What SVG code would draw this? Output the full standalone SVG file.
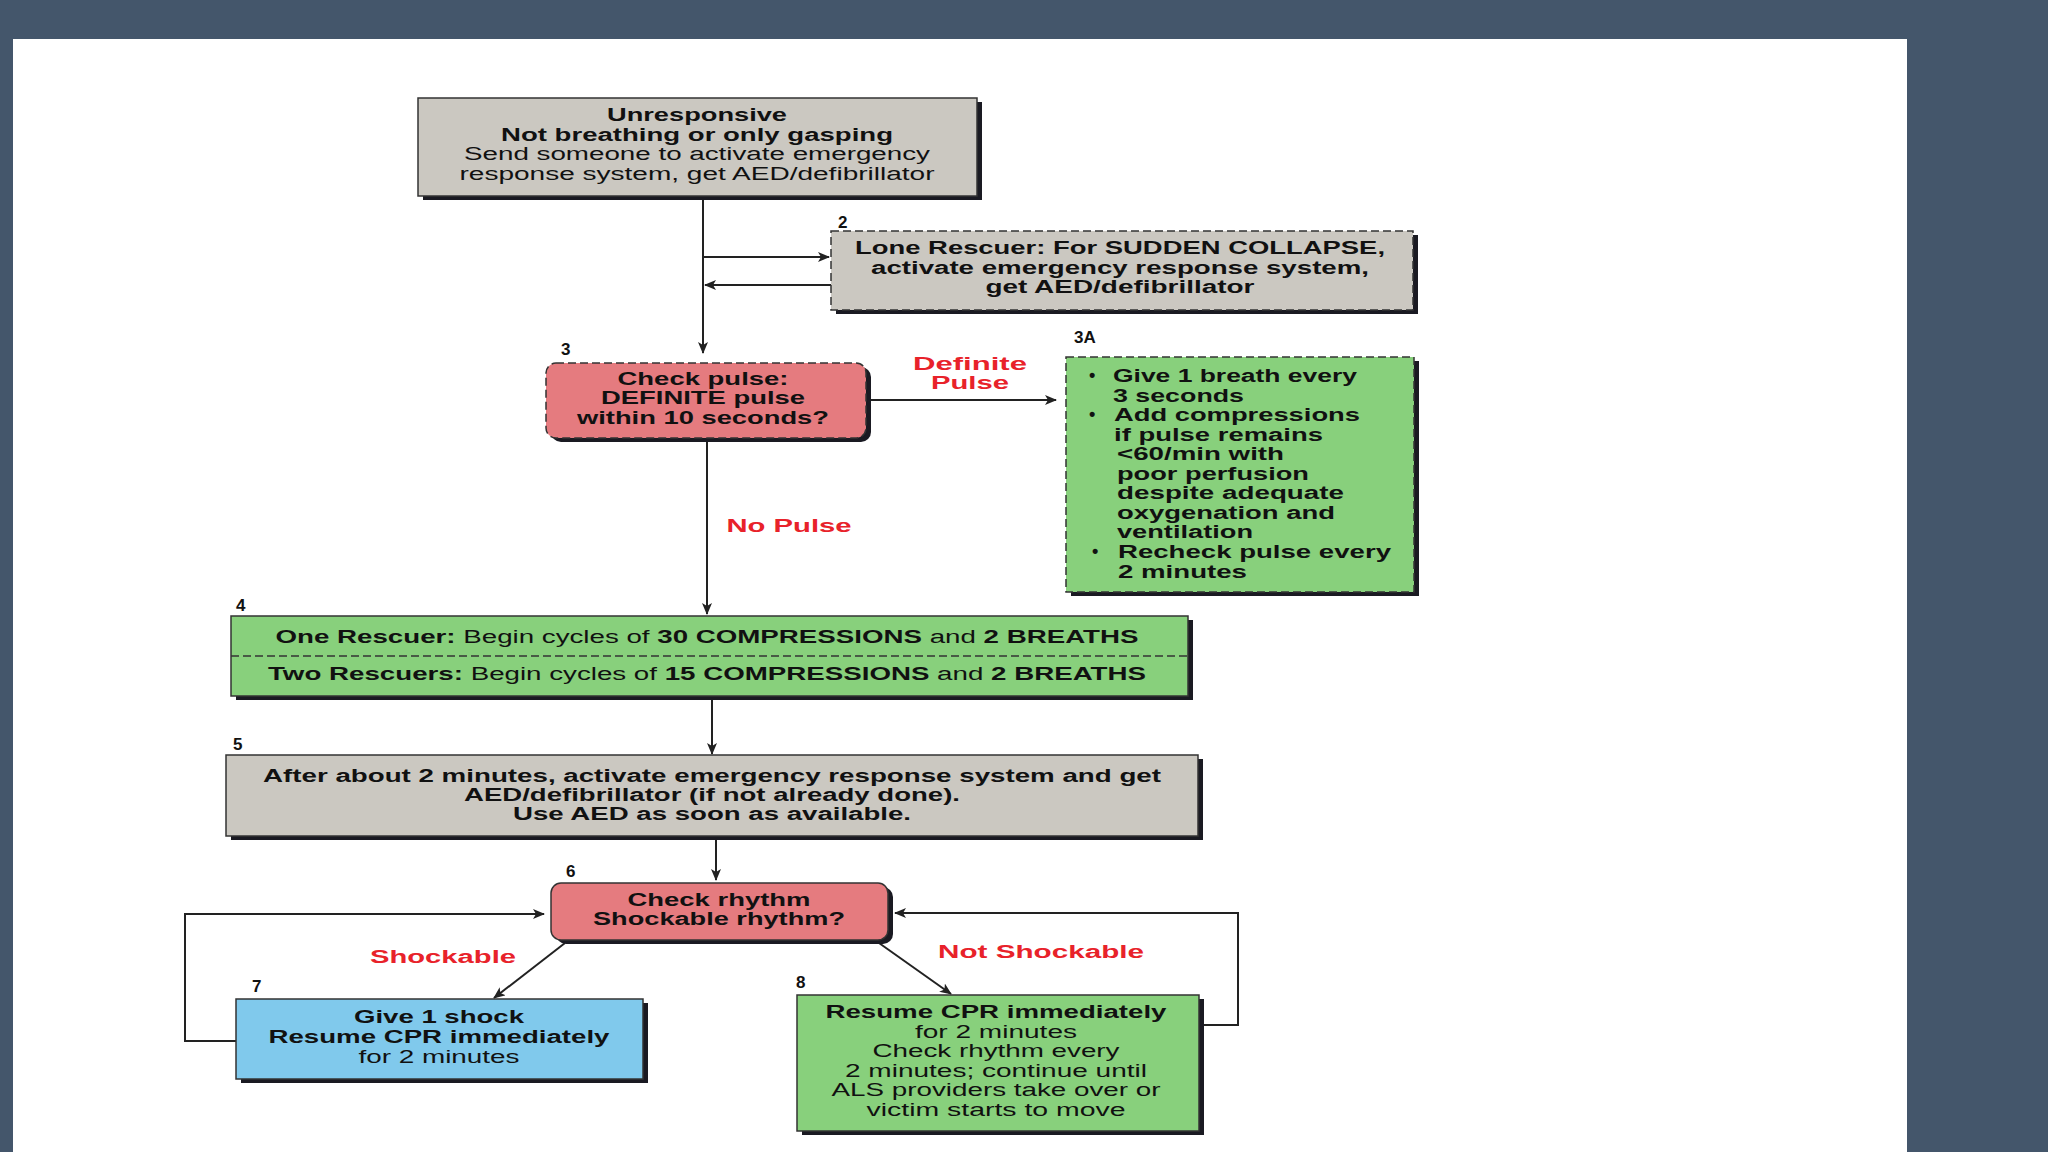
<svg xmlns="http://www.w3.org/2000/svg" width="2048" height="1152" viewBox="0 0 2048 1152">
<defs>
<style>
text{font-family:"Liberation Sans",Arial,sans-serif;font-size:18px;fill:#111;text-anchor:middle}
.b{font-weight:bold}
.r{fill:#e8222a;font-weight:bold}
.n{font-weight:bold;text-anchor:start;font-size:17px}
.sh{fill:#1a1a22}
.box{stroke:#333;stroke-width:1.5}
.d{stroke-dasharray:8 4}
.gray{fill:#cbc8c1}.pink{fill:#e57b7f}.green{fill:#88d07c}.blue{fill:#80c9ec}
.c{fill:none;stroke:#222;stroke-width:2}
</style>
<marker id="a" markerWidth="12" markerHeight="10" refX="11" refY="5" orient="auto" markerUnits="userSpaceOnUse"><path d="M0,0 L12,5 L0,10 L3,5 Z" fill="#222"/></marker>
</defs>
<rect width="2048" height="1152" fill="#44566b"/>
<rect x="13" y="39" width="1894" height="1113" fill="#fff"/>
<g id="connectors">
<path class="c" d="M703,196 V353" marker-end="url(#a)"/>
<path class="c" d="M703,257 H829" marker-end="url(#a)"/>
<path class="c" d="M831,285 H705" marker-end="url(#a)"/>
<path class="c" d="M866,400 H1056" marker-end="url(#a)"/>
<path class="c" d="M707,438 V614" marker-end="url(#a)"/>
<path class="c" d="M712,700 V754" marker-end="url(#a)"/>
<path class="c" d="M716,840 V880" marker-end="url(#a)"/>
<path class="c" d="M565,943 L494,998" marker-end="url(#a)"/>
<path class="c" d="M879,943 L951,994" marker-end="url(#a)"/>
<path class="c" d="M236,1041 H185 V914 H544" marker-end="url(#a)"/>
<path class="c" d="M1203,1025 H1238 V913 H895" marker-end="url(#a)"/>
<text class="r" x="970" y="370" textLength="114" lengthAdjust="spacingAndGlyphs">Definite</text>
<text class="r" x="970" y="389" textLength="78" lengthAdjust="spacingAndGlyphs">Pulse</text>
<text class="r" x="789" y="532" textLength="125" lengthAdjust="spacingAndGlyphs">No Pulse</text>
<text class="r" x="443" y="963" textLength="146" lengthAdjust="spacingAndGlyphs">Shockable</text>
<text class="r" x="1041" y="958" textLength="206" lengthAdjust="spacingAndGlyphs">Not Shockable</text>
</g>
<g id="n1">
<rect class="sh" x="423" y="102" width="559" height="98"/>
<rect class="box gray" x="418" y="98" width="559" height="98"/>
<text class="b" x="697" y="121" textLength="180" lengthAdjust="spacingAndGlyphs">Unresponsive</text>
<text class="b" x="697" y="141" textLength="392" lengthAdjust="spacingAndGlyphs">Not breathing or only gasping</text>
<text x="697" y="160" textLength="466" lengthAdjust="spacingAndGlyphs">Send someone to activate emergency</text>
<text x="697" y="180" textLength="475" lengthAdjust="spacingAndGlyphs">response system, get AED/defibrillator</text>
</g>
<g id="n2">
<text class="n" x="838" y="228">2</text>
<rect class="sh" x="836" y="235" width="582" height="79"/>
<rect class="box gray d" x="831" y="231" width="582" height="79"/>
<text class="b" x="1120" y="254" textLength="530" lengthAdjust="spacingAndGlyphs">Lone Rescuer: For SUDDEN COLLAPSE,</text>
<text class="b" x="1120" y="274" textLength="498" lengthAdjust="spacingAndGlyphs">activate emergency response system,</text>
<text class="b" x="1120" y="293" textLength="269" lengthAdjust="spacingAndGlyphs">get AED/defibrillator</text>
</g>
<g id="n3">
<text class="n" x="561" y="355">3</text>
<rect class="sh" x="551" y="367" width="320" height="75" rx="10"/>
<rect class="box pink d" x="546" y="363" width="320" height="75" rx="10"/>
<text class="b" x="703" y="385" textLength="171" lengthAdjust="spacingAndGlyphs">Check pulse:</text>
<text class="b" x="703" y="404" textLength="204" lengthAdjust="spacingAndGlyphs">DEFINITE pulse</text>
<text class="b" x="703" y="424" textLength="252" lengthAdjust="spacingAndGlyphs">within 10 seconds?</text>
</g>
<g id="n3a">
<text class="n" x="1074" y="343">3A</text>
<rect class="sh" x="1071" y="361" width="348" height="235"/>
<rect class="box green d" x="1066" y="357" width="348" height="235"/>
<g style="text-anchor:start" class="b">
<text class="b" x="1089" y="381" style="text-anchor:start">•</text>
<text class="b" x="1113" y="382" style="text-anchor:start" textLength="244" lengthAdjust="spacingAndGlyphs">Give 1 breath every</text>
<text class="b" x="1113" y="402" style="text-anchor:start" textLength="131" lengthAdjust="spacingAndGlyphs">3 seconds</text>
<text class="b" x="1089" y="420" style="text-anchor:start">•</text>
<text class="b" x="1114" y="421" style="text-anchor:start" textLength="246" lengthAdjust="spacingAndGlyphs">Add compressions</text>
<text class="b" x="1114" y="441" style="text-anchor:start" textLength="209" lengthAdjust="spacingAndGlyphs">if pulse remains</text>
<text class="b" x="1117" y="460" style="text-anchor:start" textLength="167" lengthAdjust="spacingAndGlyphs">&lt;60/min with</text>
<text class="b" x="1117" y="480" style="text-anchor:start" textLength="192" lengthAdjust="spacingAndGlyphs">poor perfusion</text>
<text class="b" x="1117" y="499" style="text-anchor:start" textLength="227" lengthAdjust="spacingAndGlyphs">despite adequate</text>
<text class="b" x="1117" y="519" style="text-anchor:start" textLength="218" lengthAdjust="spacingAndGlyphs">oxygenation and</text>
<text class="b" x="1117" y="538" style="text-anchor:start" textLength="136" lengthAdjust="spacingAndGlyphs">ventilation</text>
<text class="b" x="1092" y="557" style="text-anchor:start">•</text>
<text class="b" x="1118" y="558" style="text-anchor:start" textLength="273" lengthAdjust="spacingAndGlyphs">Recheck pulse every</text>
<text class="b" x="1118" y="578" style="text-anchor:start" textLength="129" lengthAdjust="spacingAndGlyphs">2 minutes</text>
</g>
</g>
<g id="n4">
<text class="n" x="236" y="611">4</text>
<rect class="sh" x="236" y="620" width="957" height="80"/>
<rect class="box green" x="231" y="616" width="957" height="80"/>
<line x1="231" y1="656" x2="1188" y2="656" stroke="#333" stroke-width="1.5" stroke-dasharray="8 4"/>
<text x="707" y="643" textLength="863" lengthAdjust="spacingAndGlyphs"><tspan class="b">One Rescuer:</tspan> Begin cycles of <tspan class="b">30 COMPRESSIONS</tspan> and <tspan class="b">2 BREATHS</tspan></text>
<text x="707" y="680" textLength="878" lengthAdjust="spacingAndGlyphs"><tspan class="b">Two Rescuers:</tspan> Begin cycles of <tspan class="b">15 COMPRESSIONS</tspan> and <tspan class="b">2 BREATHS</tspan></text>
</g>
<g id="n5">
<text class="n" x="233" y="750">5</text>
<rect class="sh" x="231" y="759" width="972" height="81"/>
<rect class="box gray" x="226" y="755" width="972" height="81"/>
<text class="b" x="712" y="782" textLength="898" lengthAdjust="spacingAndGlyphs">After about 2 minutes, activate emergency response system and get</text>
<text class="b" x="712" y="801" textLength="496" lengthAdjust="spacingAndGlyphs">AED/defibrillator (if not already done).</text>
<text class="b" x="712" y="820" textLength="398" lengthAdjust="spacingAndGlyphs">Use AED as soon as available.</text>
</g>
<g id="n6">
<text class="n" x="566" y="877">6</text>
<rect class="sh" x="556" y="887" width="337" height="57" rx="10"/>
<rect class="box pink" x="551" y="883" width="337" height="57" rx="10"/>
<text class="b" x="719" y="906" textLength="183" lengthAdjust="spacingAndGlyphs">Check rhythm</text>
<text class="b" x="719" y="925" textLength="252" lengthAdjust="spacingAndGlyphs">Shockable rhythm?</text>
</g>
<g id="n7">
<text class="n" x="252" y="992">7</text>
<rect class="sh" x="241" y="1003" width="407" height="80"/>
<rect class="box blue" x="236" y="999" width="407" height="80"/>
<text class="b" x="439" y="1023" textLength="170" lengthAdjust="spacingAndGlyphs">Give 1 shock</text>
<text class="b" x="439" y="1043" textLength="341" lengthAdjust="spacingAndGlyphs">Resume CPR immediately</text>
<text x="439" y="1063" textLength="161" lengthAdjust="spacingAndGlyphs">for 2 minutes</text>
</g>
<g id="n8">
<text class="n" x="796" y="988">8</text>
<rect class="sh" x="802" y="999" width="402" height="136"/>
<rect class="box green" x="797" y="995" width="402" height="136"/>
<text class="b" x="996" y="1018" textLength="341" lengthAdjust="spacingAndGlyphs">Resume CPR immediately</text>
<text x="996" y="1038" textLength="162" lengthAdjust="spacingAndGlyphs">for 2 minutes</text>
<text x="996" y="1057" textLength="247" lengthAdjust="spacingAndGlyphs">Check rhythm every</text>
<text x="996" y="1077" textLength="302" lengthAdjust="spacingAndGlyphs">2 minutes; continue until</text>
<text x="996" y="1096" textLength="329" lengthAdjust="spacingAndGlyphs">ALS providers take over or</text>
<text x="996" y="1116" textLength="259" lengthAdjust="spacingAndGlyphs">victim starts to move</text>
</g>
</svg>
